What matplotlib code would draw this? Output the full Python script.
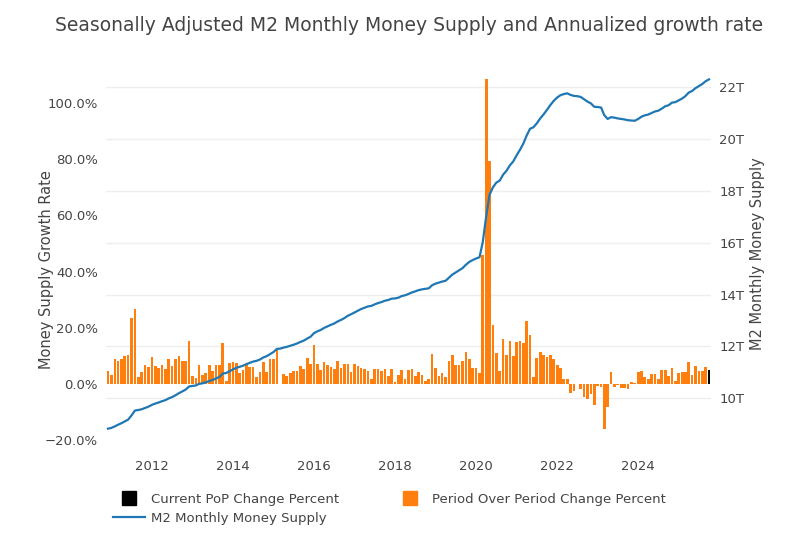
import matplotlib
matplotlib.use("Agg")
import matplotlib.pyplot as plt
import matplotlib.dates as mdates
from matplotlib.lines import Line2D
from matplotlib.ticker import FuncFormatter
import pandas as pd

plt.rcParams.update({
    "font.family": "DejaVu Sans",
    "axes.spines.top": False,
    "axes.spines.right": False,
    "axes.spines.left": False,
    "axes.spines.bottom": False,
})

# ── data ──────────────────────────────────────────────────────────────────────
months = pd.date_range("2010-12-01", periods=179, freq="MS")

# annualized period-over-period change, %
pop_change = [
    4.7, 3.1, 9.0, 8.1, 8.8, 10.0, 10.2, 23.3, 26.6, 2.4, 4.3, 6.6,
    5.9, 9.5, 6.4, 5.5, 6.6, 5.2, 8.8, 6.4, 8.8, 10.0, 8.1, 8.3,
    15.2, 2.8, 2.1, 6.6, 3.1, 3.8, 6.6, 4.5, 6.6, 6.9, 14.5, 0.9,
    7.4, 7.8, 7.4, 3.8, 5.0, 6.6, 5.9, 5.9, 2.4, 4.3, 7.8, 4.3,
    8.8, 9.0, 12.1, 0.1, 3.6, 2.8, 4.0, 4.5, 4.5, 6.4, 5.2, 9.3,
    7.1, 14.0, 7.1, 5.0, 7.8, 6.6, 5.9, 5.2, 8.1, 5.7, 7.1, 7.1,
    4.3, 7.1, 6.4, 5.7, 5.2, 4.7, 1.9, 5.2, 5.2, 4.5, 5.2, 2.8,
    5.2, 0.7, 3.1, 5.0, 1.9, 4.8, 5.2, 2.8, 4.3, 3.1, 0.9, 1.7,
    10.7, 5.5, 2.8, 3.8, 2.4, 8.3, 10.2, 6.9, 6.6, 8.1, 11.4, 9.0,
    5.7, 5.5, 3.8, 45.9, 108.4, 79.5, 21.1, 10.9, 4.5, 16.1, 10.4, 15.4,
    10.0, 14.9, 15.4, 14.7, 22.3, 17.3, 2.4, 9.3, 11.2, 10.2, 9.7, 10.4,
    9.0, 6.9, 5.5, 1.9, 1.7, -3.1, -2.4, -0.1, -1.8, -4.5, -5.2, -3.6,
    -7.4, -0.6, -1.0, -15.9, -8.1, 4.3, -1.0, -0.5, -1.4, -1.4, -1.8, 0.6,
    0.2, 4.2, 4.7, 2.3, 1.6, 3.6, 3.7, 1.7, 5.0, 5.0, 2.8, 5.7,
    0.9, 4.0, 4.3, 4.3, 7.7, 3.1, 6.5, 4.7, 4.5, 5.9, 4.8,
]

# M2 money supply, trillions of dollars
m2_supply = [
    8.82, 8.85, 8.91, 8.97, 9.03, 9.10, 9.17, 9.33, 9.52, 9.54, 9.57, 9.62,
    9.67, 9.74, 9.79, 9.83, 9.88, 9.92, 9.99, 10.04, 10.11, 10.19, 10.26, 10.33,
    10.45, 10.47, 10.49, 10.55, 10.57, 10.61, 10.66, 10.70, 10.76, 10.82, 10.95, 10.97,
    11.04, 11.11, 11.17, 11.21, 11.25, 11.31, 11.36, 11.41, 11.44, 11.49, 11.57, 11.62,
    11.70, 11.78, 11.90, 11.91, 11.95, 11.98, 12.02, 12.06, 12.11, 12.17, 12.22, 12.30,
    12.37, 12.51, 12.58, 12.63, 12.71, 12.77, 12.83, 12.88, 12.96, 13.02, 13.09, 13.18,
    13.24, 13.31, 13.38, 13.44, 13.49, 13.54, 13.56, 13.62, 13.67, 13.71, 13.76, 13.79,
    13.84, 13.85, 13.88, 13.94, 13.97, 14.02, 14.08, 14.12, 14.17, 14.20, 14.22, 14.24,
    14.36, 14.42, 14.46, 14.50, 14.53, 14.65, 14.77, 14.85, 14.93, 15.02, 15.15, 15.26,
    15.33, 15.39, 15.44, 16.02, 17.01, 17.85, 18.14, 18.32, 18.40, 18.63, 18.78, 18.99,
    19.14, 19.38, 19.60, 19.82, 20.14, 20.40, 20.46, 20.61, 20.80, 20.96, 21.13, 21.32,
    21.48, 21.61, 21.70, 21.74, 21.77, 21.71, 21.67, 21.66, 21.63, 21.54, 21.45, 21.38,
    21.25, 21.24, 21.22, 20.93, 20.78, 20.85, 20.83, 20.80, 20.78, 20.76, 20.73, 20.72,
    20.71, 20.78, 20.87, 20.92, 20.95, 21.01, 21.07, 21.10, 21.18, 21.27, 21.31, 21.41,
    21.43, 21.50, 21.57, 21.66, 21.80, 21.86, 21.97, 22.05, 22.13, 22.24, 22.31,
]

growth_ticks = [-20, 0, 20, 40, 60, 80, 100]
supply_ticks = [10, 12, 14, 16, 18, 20, 22]
year_ticks = list(range(2012, 2025, 2))

BAR_ORANGE = "#ff7f0e"
LINE_BLUE = "#1f77b4"
TEXT = "#444444"

# ── figure ───────────────────────────────────────────────────────────────────
fig = plt.figure(figsize=(8.06, 5.49), dpi=100)
ax = fig.add_axes([0.1319, 0.1876, 0.7499, 0.6995])
ax_r = ax.twinx()      # right scale + gridlines, drawn underneath
ax_line = ax.twinx()   # M2 line, drawn on top of the bars

ax_r.set_zorder(0)
ax.set_zorder(1)
ax_line.set_zorder(2)
ax.patch.set_visible(False)
ax_line.patch.set_visible(False)

bar_w = 24  # days
ax.bar(months[:-1], pop_change[:-1], width=bar_w, color=BAR_ORANGE,
       label="Period Over Period Change Percent")
ax.bar(months[-1:], pop_change[-1:], width=bar_w, color="black",
       label="Current PoP Change Percent")
ax_line.plot(months, m2_supply, color=LINE_BLUE, linewidth=1.6,
             label="M2 Monthly Money Supply")

ax.set_ylim(-22.1, 114.6)
ax_r.set_ylim(8.15, 22.98)
ax_line.set_ylim(8.15, 22.98)
ax.set_xlim(months[0] - pd.Timedelta(days=15), months[-1] + pd.Timedelta(days=15))

ax.set_yticks(growth_ticks)
ax.yaxis.set_major_formatter(FuncFormatter(
    lambda v, _: f"{v:.1f}%".replace("-", "\u2212")))
ax_r.set_yticks(supply_ticks)
ax_r.yaxis.set_major_formatter(FuncFormatter(lambda v, _: f"{v:.0f}T"))
ax_line.set_yticks([])
ax_line.yaxis.set_visible(False)

ax.xaxis.set_major_formatter(mdates.DateFormatter("%Y"))
ax.set_xticks([pd.Timestamp(f"{y}-01-01") for y in year_ticks])

ax_r.grid(axis="y", color="#eeeeee", linewidth=1)
for a in (ax, ax_r, ax_line):
    for s in a.spines.values():
        s.set_visible(False)
    a.tick_params(length=0, labelsize=9.5, labelcolor=TEXT)
ax.tick_params(axis="x", pad=10)
ax.tick_params(axis="y", pad=6)
ax_r.tick_params(axis="y", pad=6)

ax.set_ylabel("Money Supply Growth Rate", fontsize=10.5, color=TEXT)
ax.yaxis.set_label_coords(-0.086, 0.46)
ax_r.set_ylabel("M2 Monthly Money Supply", fontsize=10.5, color=TEXT)
ax_r.yaxis.set_label_coords(1.065, 0.5)

fig.text(0.507, 0.954, "Seasonally Adjusted M2 Monthly Money Supply and Annualized growth rate",
         ha="center", va="center", fontsize=13.5, color=TEXT)

# legend below the plot, two columns
left_items = [
    Line2D([], [], marker="s", linestyle="none", markersize=9.5, color="black"),
    Line2D([], [], color=LINE_BLUE, linewidth=1.6),
]
fig.legend(left_items, ["Current PoP Change Percent", "M2 Monthly Money Supply"],
           loc="upper left", bbox_to_anchor=(113 / 806, 1 - 493 / 549),
           frameon=False, fontsize=9.5, handlelength=2.4, handletextpad=0.5,
           borderpad=0, borderaxespad=0, labelspacing=0.45, labelcolor=TEXT)
right_items = [Line2D([], [], marker="s", linestyle="none", markersize=9.5,
                      color=BAR_ORANGE)]
fig.legend(right_items, ["Period Over Period Change Percent"],
           loc="upper left", bbox_to_anchor=(394 / 806, 1 - 493 / 549),
           frameon=False, fontsize=9.5, handlelength=2.4, handletextpad=0.5,
           borderpad=0, borderaxespad=0, labelcolor=TEXT)

fig.savefig("out.png", dpi=100)
